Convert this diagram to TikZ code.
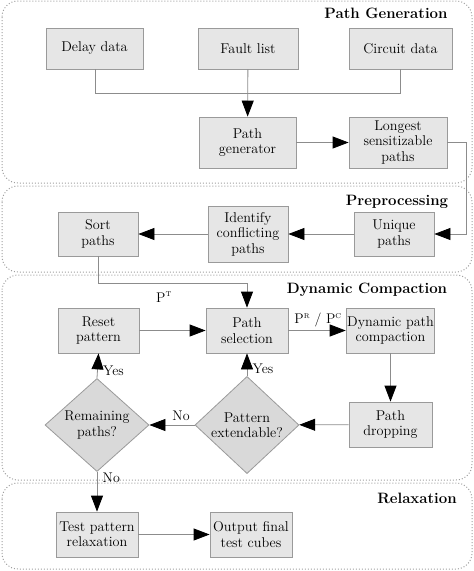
\documentclass[tikz,border=0pt]{standalone}
\usetikzlibrary{arrows.meta,shapes.geometric}
\definecolor{boxfill}{HTML}{E6E6E6}
\definecolor{dfill}{HTML}{D9D9D9}
\definecolor{edge}{HTML}{9A9A9A}
\definecolor{wire}{HTML}{8C8C8C}
\definecolor{gline}{HTML}{A0A0A0}
\begin{document}
\begin{tikzpicture}[x=1pt,y=-1pt,
  font=\fontsize{14.2}{15.5}\selectfont,
  group/.style={draw=gline,dotted,line width=1pt,rounded corners=16pt},
  gtitle/.style={font=\fontsize{15}{17}\selectfont\bfseries},
  blk/.style={draw=edge,fill=boxfill,line width=0.8pt,align=center,inner sep=1pt},
  dia/.style={diamond,draw=edge,fill=dfill,line width=0.8pt,align=center,inner sep=0pt,minimum width=104pt,minimum height=90pt},
  conn/.style={draw=wire,line width=0.8pt},
  arr/.style={conn,-{Triangle[length=16pt,width=12pt,fill=black,color=black]}},
  lbl/.style={font=\fontsize{14}{15}\selectfont}
]
\useasboundingbox (0,0) rectangle (474,571);
% groups
\draw[group] (2,1) rectangle (472,183);
\draw[group] (2,186) rectangle (472,272);
\draw[group] (2,275) rectangle (472,480);
\draw[group] (2,483) rectangle (472,569);
\node[gtitle] (t1) at (386,13) {Path Generation};
\node[gtitle] (t2) at (397,202) {Preprocessing};
\node[gtitle] (t3) at (367,290) {Dynamic Compaction};
\node[gtitle] (t4) at (417,498) {Relaxation};
% nodes
\node[blk,minimum width=97pt,minimum height=41pt] (delay) at (94.5,48.5) {Delay data};
\node[blk,minimum width=100pt,minimum height=41pt] (fault) at (248,48.5) {Fault list};
\node[blk,minimum width=103pt,minimum height=41pt] (circ) at (400.5,48.5) {Circuit data};
\node[blk,minimum width=97pt,minimum height=51pt] (pgen) at (247.5,142.5) {Path\\generator};
\node[blk,minimum width=98pt,minimum height=51pt] (lsp) at (398,142.5) {Longest\\sensitizable\\paths};
\node[blk,minimum width=80pt,minimum height=44pt] (sort) at (98,234) {Sort\\paths};
\node[blk,minimum width=80pt,minimum height=56pt] (ident) at (248,234) {Identify\\conflicting\\paths};
\node[blk,minimum width=80pt,minimum height=44pt] (uniq) at (394,234) {Unique\\paths};
\node[blk,minimum width=81pt,minimum height=45pt] (reset) at (98.5,330.5) {Reset\\pattern};
\node[blk,minimum width=82pt,minimum height=45pt] (psel) at (247,330.5) {Path\\selection};
\node[blk,minimum width=85pt,minimum height=45pt] (dpc) at (390.5,330.5) {Dynamic path\\compaction};
\node[blk,minimum width=83pt,minimum height=45pt] (pdrop) at (390.5,424.5) {Path\\dropping};
\node[dia] (pext) at (247,425) {Pattern\\extendable?};
\node[dia] (rem) at (97,425) {Remaining\\paths?};
\node[blk,minimum width=82pt,minimum height=45pt] (tpr) at (97,534.5) {Test pattern\\relaxation};
\node[blk,minimum width=82pt,minimum height=45pt] (out) at (251,534.5) {Output final\\test cubes};
% connectors
\coordinate (m1) at (95,93);
\coordinate (m2) at (400.5,93);
\draw[conn] (delay.south -| m1) |- (m2) -- (circ.south);
\draw[arr] (fault) -- (pgen);
\draw[arr] (pgen) -- (lsp);
\coordinate (r1) at (466,142.5);
\coordinate (r2) at (466,234);
\draw[arr] (lsp.east) -- (r1) -- (r2) -- (uniq.east);
\draw[arr] (uniq) -- (ident);
\draw[arr] (ident) -- (sort);
\coordinate (s1) at (98,283);
\draw[arr] (sort.south) -- (s1) -| (psel.north);
\node[lbl] (pt) at (164,297) {P$^{\scriptscriptstyle\mathrm{T}}$};
\draw[arr] (reset) -- (psel);
\draw[arr] (psel) -- (dpc);
\node[lbl] (prc) at (318,320) {P$^{\scriptscriptstyle\mathrm{R}}$ / P$^{\scriptscriptstyle\mathrm{C}}$};
\draw[arr] (dpc) -- (pdrop);
\draw[arr] (pdrop) -- (pext);
\draw[arr] (pext) -- node[lbl,above,pos=0.3,yshift=1pt] (no1) {No} (rem);
\draw[arr] (pext.north) -- node[lbl,right,pos=0.3,xshift=2pt] (yes1) {Yes} (psel.south);
\draw[arr] (rem.north) -- node[lbl,right,pos=0.3,xshift=2pt] (yes2) {Yes} (reset.south);
\draw[arr] (rem.south) -- node[lbl,right,pos=0.15,xshift=2pt] (no2) {No} (tpr.north);
\draw[arr] (tpr) -- (out);
\end{tikzpicture}
\end{document}
